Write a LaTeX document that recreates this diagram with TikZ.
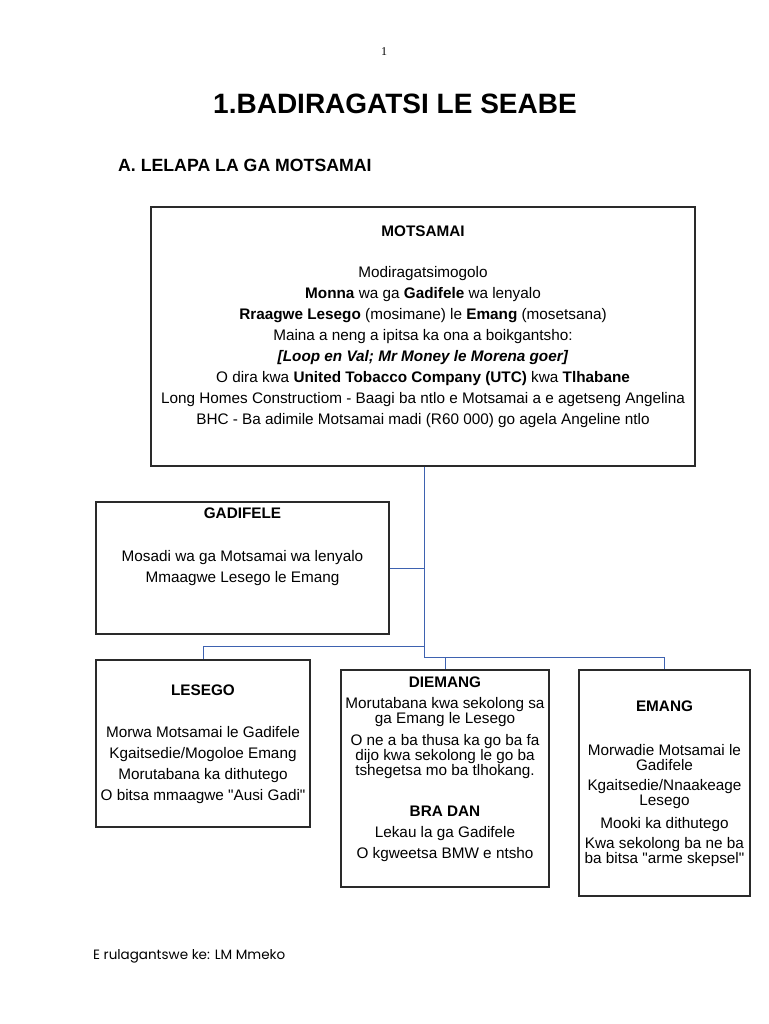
\documentclass[tikz,border=0pt]{standalone}
\usepackage{fontspec}
\setmainfont{Liberation Sans}
\newfontfamily\qf{Liberation Sans}
\newfontfamily\pnfont{Liberation Serif}
\newfontfamily\footfont{Poppins}
\newcommand{\sq}{{\qf"}}
\definecolor{conncol}{HTML}{3E62B0}
\definecolor{boxcol}{HTML}{2A2A2A}
\tikzset{
  x=1pt,y=-1pt,
  box/.style={draw=boxcol,line width=1.1pt,rectangle,inner sep=0pt},
  conn/.style={draw=conncol,line width=0.9pt},
  body/.style={align=center,inner sep=0pt,anchor=north,font=\fontsize{15.3}{15}\selectfont},
  wide/.style={align=center,inner sep=0pt,anchor=north,font=\fontsize{15.3}{21}\selectfont},
}
\begin{document}
\begin{tikzpicture}
\useasboundingbox[fill=white] (0,0) rectangle (768,1024);
% headings
\node[font=\pnfont\fontsize{12}{14}\selectfont,inner sep=0pt] (pn) at (384,52) {1};
\node[font=\bfseries\fontsize{28}{32}\selectfont,inner sep=0pt] (title) at (395,104) {1.BADIRAGATSI LE SEABE};
\node[font=\bfseries\fontsize{17.7}{20}\selectfont,inner sep=0pt,anchor=west] (sub) at (118,165) {A. LELAPA LA GA MOTSAMAI};
% boxes
\node[box,minimum width=544pt,minimum height=259pt] (mot) at (423,336.5) {};
\node[box,minimum width=293pt,minimum height=132pt] (gad) at (242.5,568) {};
\node[box,minimum width=214pt,minimum height=167pt] (les) at (203,743.5) {};
\node[box,minimum width=208pt,minimum height=217pt] (die) at (445,778.5) {};
\node[box,minimum width=171pt,minimum height=226pt] (em) at (664.5,783) {};
% texts
\node[wide] (mott) at (423,225.4) {\textbf{MOTSAMAI}\\[20pt]
Modiragatsimogolo\\
\textbf{Monna} wa ga \textbf{Gadifele} wa lenyalo\\
\textbf{Rraagwe Lesego} (mosimane) le \textbf{Emang} (mosetsana)\\
Maina a neng a ipitsa ka ona a boikgantsho:\\
\textbf{\itshape [Loop en Val; Mr Money le Morena goer]}\\
O dira kwa \textbf{United Tobacco Company (UTC)} kwa \textbf{Tlhabane}\\
Long Homes Constructiom - Baagi ba ntlo e Motsamai a e agetseng Angelina\\
BHC - Ba adimile Motsamai madi (R60 000) go agela Angeline ntlo};
\node[wide] (gadt) at (242.5,507.7) {\textbf{GADIFELE}\\[21.7pt]
Mosadi wa ga Motsamai wa lenyalo\\
Mmaagwe Lesego le Emang};
\node[wide] (lest) at (203,685.1) {\textbf{LESEGO}\\[21pt]
Morwa Motsamai le Gadifele\\
Kgaitsedie/Mogoloe Emang\\
Morutabana ka dithutego\\
O bitsa mmaagwe \sq Ausi Gadi\sq};
\node[body] (diet) at (445,677.1) {\textbf{DIEMANG}\\[5.6pt]
Morutabana kwa sekolong sa\\
ga Emang le Lesego\\[6.7pt]
O ne a ba thusa ka go ba fa\\
dijo kwa sekolong le go ba\\
tshegetsa mo ba tlhokang.\\[26.7pt]
\textbf{BRA DAN}\\[6pt]
Lekau la ga Gadifele\\[5.6pt]
O kgweetsa BMW e ntsho};
\node[body] (emt) at (664.5,701.1) {\textbf{EMANG}\\[28.3pt]
Morwadie Motsamai le\\
Gadifele\\[5.7pt]
Kgaitsedie/Nnaakeage\\
Lesego\\[7.3pt]
Mooki ka dithutego\\[5.4pt]
Kwa sekolong ba ne ba\\
ba bitsa \sq arme skepsel\sq};
% connectors
\coordinate (j1) at (424,646);
\coordinate (j2) at (424,657);
\draw[conn] (mot.south -| j1) -- (j2);
\draw[conn] (gad.east) -- (gad.east -| j1);
\draw[conn] (j1) -| (les.north);
\draw[conn] (j2) -| (em.north);
\draw[conn] (j2 -| die.north) -- (die.north);
% footer
\node[font=\footfont\fontsize{13.5}{16}\selectfont,inner sep=0pt,anchor=west] (foot) at (93,956) {E rulagantswe ke: LM Mmeko};
\end{tikzpicture}
\end{document}
